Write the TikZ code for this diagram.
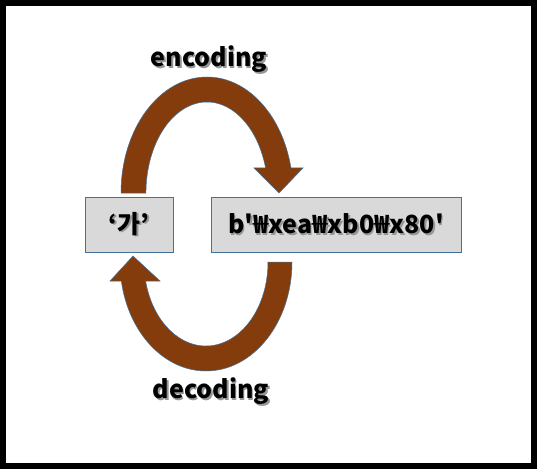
\documentclass[tikz,border=0pt]{standalone}
\usepackage{fontspec}
\setmainfont{Noto Sans CJK KR}
\definecolor{arrowbrown}{RGB}{132,60,12}
\definecolor{edgeblue}{RGB}{65,113,156}
\definecolor{boxgray}{RGB}{217,217,217}
\definecolor{shadowgray}{RGB}{150,150,150}
\newcommand{\shtext}[1]{\rlap{\kern1.5pt\raisebox{-1.5pt}{\color{shadowgray}#1}}#1}
\tikzset{
  textlabel/.style={inner sep=0pt, font=\fontsize{25}{29}\selectfont\bfseries, text=black},
  valuebox/.style={draw=edgeblue, line width=0.8pt, fill=boxgray, inner sep=0pt},
  fatarrow/.style={fill=arrowbrown, draw=edgeblue, line width=0.5pt, line join=miter}
}
\begin{document}
\begin{tikzpicture}[x=1pt,y=1pt]
\useasboundingbox (0,0) rectangle (537,469);
\fill[white] (0,0) rectangle (537,469);
\draw[line width=6pt] (3,3) rectangle (534,466);
% boxes
\node[valuebox, minimum width=88pt, minimum height=55pt] (src) at (129,244.5) {};
\node[valuebox, minimum width=250pt, minimum height=55pt] (dst) at (336,244.5) {};
\node[textlabel] (srctxt) at (src.center) {\shtext{‘가’}};
\node[textlabel] (dsttxt) at (dst.center) {\shtext{b\textquotesingle₩xea₩xb0₩x80\textquotesingle}};
% encoding arrow
\path[fatarrow] (121,276) arc[start angle=180, end angle=12.45, x radius=86, y radius=116]
  -- (303,301) -- (279,276) -- (254,301) -- (265.6,301)
  arc[start angle=15.95, end angle=180, x radius=61, y radius=91] -- cycle;
% decoding arrow
\path[fatarrow] (292,207) arc[start angle=360, end angle=190.04, x radius=86, y radius=109]
  -- (110,188) -- (133,213) -- (160,188) -- (145.6,188)
  arc[start angle=193.07, end angle=360, x radius=62, y radius=84] -- cycle;
% labels
\node[textlabel] (enc) at (209,409) {\shtext{encoding}};
\node[textlabel] (dec) at (211,77) {\shtext{decoding}};
\end{tikzpicture}
\end{document}
